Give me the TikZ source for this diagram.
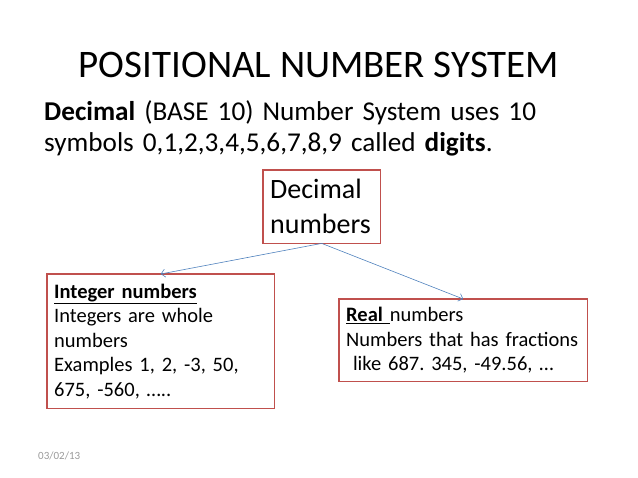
\documentclass[tikz,border=0pt]{standalone}
\usepackage{fontspec}
\setmainfont{Carlito}
\usetikzlibrary{positioning, arrows.meta}
\definecolor{boxred}{HTML}{C0504D}
\definecolor{linkblue}{HTML}{4F81BD}
\definecolor{dategray}{HTML}{9A9A9A}

\begin{document}
\frenchspacing
\begin{tikzpicture}
    [
        x=1pt, y=-1pt,
        heading/.style={font=\fontsize{39}{47}\selectfont, inner sep=0pt},
        intro/.style={font=\fontsize{27.2}{31}\selectfont, inner sep=0pt,
                      text width=600pt, align=left},
        numbox/.style={anchor=north west, align=left, inner xsep=#1, inner ysep=0pt},
        frame/.style={draw=boxred, line width=1.1pt},
        small/.style={font=\fontsize{20.5}{24.5}\selectfont},
        big/.style={font=\fontsize{28}{35}\selectfont},
        link/.style={draw=linkblue, line width=0.6pt,
                     -{Straight Barb[length=4pt, width=8pt]}}
    ]
    \useasboundingbox (0,0) rectangle (638,478);
    \node (title) [heading, anchor=base] at (319,77.5) {POSITIONAL NUMBER SYSTEM};
    \node (lead) [intro, anchor=base west] at (44,121)
        {\textbf{Decimal} (BASE 10) Number System uses 10\\
         symbols 0,1,2,3,4,5,6,7,8,9 called \textbf{digits}.};
    \node (decbox) [numbox=7pt, big, minimum width=117pt, minimum height=73pt,
                    text width=103pt] at (263,170) {Decimal\\numbers};
    \node (intbox) [numbox=7pt, small, minimum width=227pt, minimum height=134pt,
                    text width=213pt] at (47,274)
        {\underline{\textbf{Integer numbers}}\\
         Integers are whole\\
         numbers\\
         Examples 1, 2, -3, 50,\\
         675, -560, \dots..};
    \node (realbox) [numbox=7pt, small, minimum width=248pt, minimum height=82pt,
                     text width=234pt] at (339,299)
        {\underline{\textbf{Real }}numbers\\
         Numbers that has fractions\\
         \ like 687. 345, -49.56, \dots};
    \node (date) [font=\fontsize{11}{13}\selectfont, text=dategray, anchor=base west,
                  inner sep=0pt] at (38,460) {03/02/13};
    % red frames round the three boxes
    \foreach \b in {decbox, intbox, realbox}
        \draw [frame] (\b.north west) rectangle (\b.south east);
    \draw [link] (decbox.south) -- (intbox.north);
    \draw [link] (decbox.south) -- (realbox.north);
\end{tikzpicture}
\end{document}
